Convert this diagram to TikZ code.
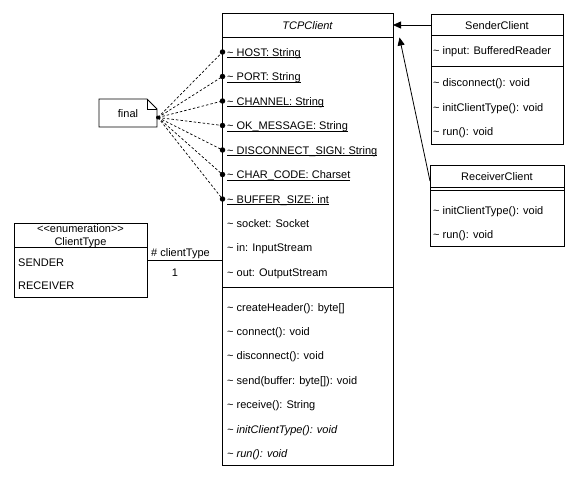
\documentclass[tikz,border=0pt]{standalone}
\usepackage{fontspec}
\setmainfont{Liberation Sans}
\usetikzlibrary{arrows.meta}
\newcommand\ulx[1]{\setbox0\hbox{#1}\rlap{\rule[-2pt]{\wd0}{0.6pt}}\box0}
\newcommand\tl{\textasciitilde}
\tikzset{
  box/.style={draw, line width=0.9pt, inner sep=0pt, anchor=north west},
  sep/.style={line width=0.9pt},
  txt/.style={anchor=base west, inner sep=0pt, font=\fontsize{11}{13}\selectfont},
  ctxt/.style={anchor=base, inner sep=0pt, font=\fontsize{11}{13}\selectfont},
  dot/.style={circle, fill=black, inner sep=0pt, minimum size=5.5pt},
  dashline/.style={dash pattern=on 2.5pt off 2pt, line width=0.7pt},
  gen/.style={-{Triangle[length=8pt,width=7pt]}, line width=0.8pt},
  assoc/.style={line width=0.9pt}
}
\begin{document}
\begin{tikzpicture}[x=1pt,y=-1pt]
\fill[white] (0,0) rectangle (581,480);
\useasboundingbox (0,0) rectangle (581,480);

% TCPClient
\node[box, minimum width=171pt, minimum height=452pt] (tcp) at (222,13) {};
\draw[sep] (222,37) -- (393,37);
\draw[sep] (222,287) -- (393,287);
\node[ctxt, font=\fontsize{11}{13}\selectfont\itshape] (tcpT) at (307.5,29) {TCPClient};
\node[txt] (a1) at (227,56) {\ulx{\tl{} HOST: String}};
\node[txt] (a2) at (227,80.5) {\ulx{\tl{} PORT: String}};
\node[txt] (a3) at (227,105) {\ulx{\tl{} CHANNEL: String}};
\node[txt] (a4) at (227,129.5) {\ulx{\tl{} OK\_MESSAGE: String}};
\node[txt] (a5) at (227,154) {\ulx{\tl{} DISCONNECT\_SIGN: String}};
\node[txt] (a6) at (227,178.5) {\ulx{\tl{} CHAR\_CODE: Charset}};
\node[txt] (a7) at (227,203) {\ulx{\tl{} BUFFER\_SIZE: int}};
\node[txt] (a8) at (227,227) {\tl{} socket: Socket};
\node[txt] (a9) at (227,251.5) {\tl{} in: InputStream};
\node[txt] (a10) at (227,276) {\tl{} out: OutputStream};
\node[txt] (m1) at (227,311) {\tl{} createHeader(): byte[]};
\node[txt] (m2) at (227,335.4) {\tl{} connect(): void};
\node[txt] (m3) at (227,359.8) {\tl{} disconnect(): void};
\node[txt] (m4) at (227,384.2) {\tl{} send(buffer: byte[]): void};
\node[txt] (m5) at (227,408.6) {\tl{} receive(): String};
\node[txt, font=\fontsize{11}{13}\selectfont\itshape] (m6) at (227,433) {\tl{} initClientType(): void};
\node[txt, font=\fontsize{11}{13}\selectfont\itshape] (m7) at (227,457.4) {\tl{} run(): void};

% attribute dots
\node[dot] (d1) at (222.5,52) {};
\node[dot] (d2) at (222.5,76.5) {};
\node[dot] (d3) at (222.5,101) {};
\node[dot] (d4) at (222.5,125.5) {};
\node[dot] (d5) at (222.5,150) {};
\node[dot] (d6) at (222.5,174.5) {};
\node[dot] (d7) at (222.5,199) {};

% note
\draw[line width=0.9pt] (99,99) -- (147,99) -- (157,109) -- (157,127) -- (99,127) -- cycle;
\draw[line width=0.8pt] (147,99) -- (147,109) -- (157,109);
\node[ctxt] (note) at (128,117) {final};
\node[dot, minimum size=4pt] (nd) at (158,117.5) {};
\foreach \i in {1,...,7} { \draw[dashline] (nd.center) -- (d\i.center); }

% SenderClient
\node[box, minimum width=132pt, minimum height=130pt] (sender) at (431,14) {};
\draw[sep] (431,35) -- (563,35);
\draw[sep] (431,66) -- (563,66);
\node[ctxt] (senderT) at (497,29) {SenderClient};
\node[txt] (s1) at (433,54) {\tl{} input: BufferedReader};
\node[txt] (s2) at (433,86) {\tl{} disconnect(): void};
\node[txt] (s3) at (433,111) {\tl{} initClientType(): void};
\node[txt] (s4) at (433,135) {\tl{} run(): void};

% ReceiverClient
\node[box, minimum width=134pt, minimum height=81pt] (receiver) at (430,165) {};
\draw[sep] (430,187) -- (564,187);
\draw[sep] (430,190) -- (564,190);
\node[ctxt] (receiverT) at (497,180) {ReceiverClient};
\node[txt] (r1) at (433,214) {\tl{} initClientType(): void};
\node[txt] (r2) at (433,238.5) {\tl{} run(): void};

% ClientType
\node[box, minimum width=133pt, minimum height=74pt] (ct) at (14,223) {};
\draw[sep] (14,247) -- (147,247);
\node[ctxt] (ctS) at (80.5,232) {<\kern0pt<enumeration>\kern0pt>};
\node[ctxt] (ctT) at (80.5,245.5) {ClientType};
\node[txt] (e1) at (18,266) {SENDER};
\node[txt] (e2) at (18,289) {RECEIVER};

% generalizations
\coordinate (sA) at (431,25);
\coordinate (sB) at (393,25);
\draw[gen] (sA) -- (sB);
\coordinate (rA) at (430,181);
\coordinate (rB) at (399.5,37.5);
\draw[gen] (rA) -- (rB);

% association
\coordinate (asc) at (0,260);
\draw[assoc] (ct.east |- asc) -- (tcp.west |- asc);
\node[ctxt] (roleL) at (180.5,256) {\# clientType};
\node[ctxt] (multL) at (175,276) {1};
\end{tikzpicture}
\end{document}
